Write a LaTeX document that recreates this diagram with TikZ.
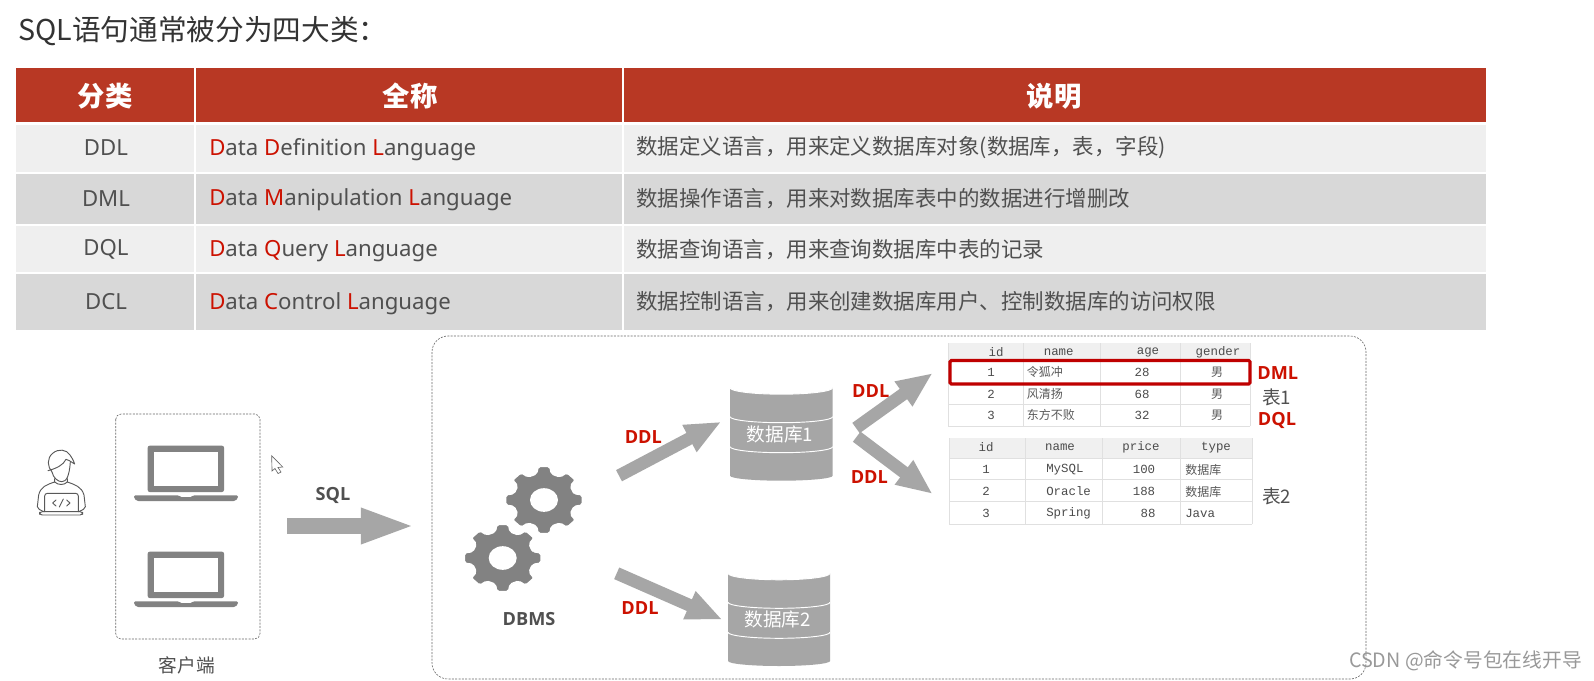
\documentclass[tikz,border=0pt]{standalone}
\usepackage{fontspec}
\usetikzlibrary{arrows.meta}
\setmainfont{Noto Sans}
\newfontfamily\cjk{Noto Sans CJK SC}
\newfontfamily\tmono{Liberation Mono}
\newfontfamily\labf{Open Sans}
\newcommand{\fs}[1]{\fontsize{#1}{#1}\selectfont}
\definecolor{hdr}{HTML}{B83824}
\definecolor{rowa}{HTML}{EFEFEF}
\definecolor{rowb}{HTML}{D8D8D8}
\definecolor{txt}{HTML}{505050}
\definecolor{redt}{HTML}{CC1100}
\definecolor{grayfig}{HTML}{A6A6A6}
\definecolor{icon}{HTML}{828282}
\newcommand{\R}[1]{\textcolor{redt}{#1}}
\tikzset{
 hcell/.style={text=white,font=\cjk\fs{20.5}\bfseries,inner sep=0pt},
 bodytxt/.style={text=txt,font=\cjk\fs{16.1},inner sep=0pt},
 latin/.style={text=txt,font=\fs{16.65},inner sep=0pt},
 lab/.style={text=redt,font=\labf\fs{13.6}\bfseries,inner sep=0pt},
 darklab/.style={text=txt,font=\labf\fs{13.6}\bfseries,inner sep=0pt},
 dim/.style={text=txt,font=\cjk\fs{14},inner sep=0pt},
 mono/.style={text=black!70,font=\tmono\fs{9.3},inner sep=0pt},
 mcjk/.style={text=black!65,font=\cjk\fs{9},inner sep=0pt},
 fatarrow/.style={draw=grayfig,line width=9.5pt,shorten >=-2.5pt,-{Triangle[length=27pt,width=21pt]}},
 frame/.style={draw=black!60,dash pattern=on 1.5pt off 1pt,line width=0.45pt,rounded corners=4pt},
 ic/.style={fill=icon},
 person/.style={draw=black!65,line width=0.7pt,fill=none,line join=round,line cap=round},
}
\newcommand{\laptop}[2]{%
 \begin{scope}[shift={(#1,#2)}]
  \fill[ic,rounded corners=1.5pt] (147.7,445.7) rectangle (224,492);
  \fill[white] (154,451.7) rectangle (218,486);
  \fill[ic,rounded corners=1pt] (134,495.3) -- (179,495.3) -- (180,497) -- (192,497) -- (193,495.3) -- (238,495.3) -- (238,498) -- (235,501) -- (137,501) -- (134,498) -- cycle;
 \end{scope}}
\newcommand{\dbcyl}[4]{% left right top bottom
 \pgfmathsetmacro{\cxx}{(#1+#2)/2}\pgfmathsetmacro{\rxx}{(#2-#1)/2}
 \fill[grayfig] (#1,#3+6) arc[start angle=180,end angle=0,x radius=\rxx,y radius=6.5] -- (#2,#4-5) arc[start angle=0,end angle=-180,x radius=\rxx,y radius=-5] -- cycle;
 \draw[white,line width=0.7pt] (#1,#3+6) arc[start angle=180,end angle=360,x radius=\rxx,y radius=-6.5];
 \draw[white,line width=0.7pt] (#1,#3+35) arc[start angle=180,end angle=360,x radius=\rxx,y radius=-6];
 \draw[white,line width=0.7pt] (#1,#3+65) arc[start angle=180,end angle=360,x radius=\rxx,y radius=-6];
}
\newcommand{\gearshape}[2]{%
 \begin{scope}[shift={(#1,#2)},yscale=0.875]
 \fill[icon,draw=white,line width=1.4pt,rounded corners=1.5pt]
   (-14:31) \foreach \a in {0,45,...,315}{ -- (\a-14:31) -- (\a-9:39) -- (\a+9:39) -- (\a+14:31) } -- cycle;
 \fill[white] (0,0) ellipse[x radius=14,y radius=13.5];
 \end{scope}}
\begin{document}
\begin{tikzpicture}[x=0.75pt,y=-0.75pt]
\useasboundingbox (0,0) rectangle (1594,681);
\fill[white] (0,0) rectangle (1594,681);
\node[anchor=west,text=black!80,font=\cjk\fs{21.5},inner sep=0pt] (title) at (18,31) {SQL语句通常被分为四大类：};
% table
\foreach \xa/\xb in {16/194,196/622,624/1486}{
 \fill[hdr] (\xa,68) rectangle (\xb,122);
 \fill[rowa] (\xa,125) rectangle (\xb,172);
 \fill[rowb] (\xa,174) rectangle (\xb,224);
 \fill[rowa] (\xa,226) rectangle (\xb,272);
 \fill[rowb] (\xa,274) rectangle (\xb,330);
}
\node[hcell] (h1) at (105,96) {分类};
\node[hcell] (h2) at (410,96) {全称};
\node[hcell] (h3) at (1054,96) {说明};
\node[latin] (c1) at (106,148) {DDL};
\node[latin] (c2) at (106,198.5) {DML};
\node[latin] (c3) at (106,249.5) {DQL};
\node[latin] (c4) at (106,302) {DCL};
\node[latin,anchor=base west] (f1) at (209,155.5) {\R{D}ata \R{D}efinition \R{L}anguage};
\node[latin,anchor=base west] (f2) at (209,205.5) {\R{D}ata \R{M}anipulation \R{L}anguage};
\node[latin,anchor=base west] (f3) at (209,256.5) {\R{D}ata \R{Q}uery \R{L}anguage};
\node[latin,anchor=base west] (f4) at (209,309.5) {\R{D}ata \R{C}ontrol \R{L}anguage};
\node[bodytxt,anchor=west] (d1) at (636,148) {数据定义语言，用来定义数据库对象(数据库，表，字段)};
\node[bodytxt,anchor=west] (d2) at (636,198.5) {数据操作语言，用来对数据库表中的数据进行增删改};
\node[bodytxt,anchor=west] (d3) at (636,249.5) {数据查询语言，用来查询数据库中表的记录};
\node[bodytxt,anchor=west] (d4) at (636,302) {数据控制语言，用来创建数据库用户、控制数据库的访问权限};
% client
\draw[frame] (115.7,414) rectangle (260,639);
\laptop{0}{0}
\laptop{0}{106}
\node[dim] (client) at (186.7,665) {客户端};
% person
\begin{scope}[shift={(30,440)},x=0.25pt,y=-0.25pt]
 \draw[person] (66,96) .. controls (52,80) and (50,55) .. (68,40) .. controls (85,25) and (110,28) .. (120,45) .. controls (125,52) and (130,60) .. (134,72) -- (118,62) -- (108,58) .. controls (100,75) and (80,85) .. (54,92);
 \draw[person] (66,96) .. controls (70,115) and (85,125) .. (95,125) .. controls (108,125) and (118,112) .. (121,65);
 \draw[person] (74,116) -- (74,126) .. controls (85,136) and (102,136) .. (112,126) -- (112,116);
 \draw[person] (74,126) .. controls (50,134) and (32,140) .. (26,165) -- (22,200) .. controls (22,206) and (30,210) .. (42,215);
 \draw[person] (112,126) .. controls (135,134) and (155,140) .. (162,165) -- (166,200) .. controls (166,206) and (158,210) .. (146,215);
 \draw[person,rounded corners=2pt] (44,215) -- (44,160) -- (145,160) -- (145,215);
 \draw[person,rounded corners=2pt] (29,215) rectangle (158,225);
 \draw[person] (78,180) -- (68,189) -- (78,198) (110,180) -- (120,189) -- (110,198) (100,177) -- (88,201);
\end{scope}
% cursor
\draw[draw=black!60,fill=white,line width=0.5pt] (271.7,455.7) -- (282.7,467) -- (278,467.5) -- (281,472) -- (278,473.5) -- (275,468.5) -- (272,471) -- cycle;
% SQL arrow
\coordinate (sqla) at (287,526);
\coordinate (sqlb) at (410.7,526);
\draw[fatarrow,line width=12pt,shorten >=-3.7pt,-{Triangle[length=41pt,width=24pt]}] (sqla) -- (sqlb);
\node[darklab] (sql) at (333,495) {SQL};
% DBMS frame
\draw[frame,rounded corners=12pt] (432,336) rectangle (1366,679);
% gears
\gearshape{544}{500}
\gearshape{502.7}{558}
\node[darklab] (dbms) at (529,619) {DBMS};
% DBs
\dbcyl{730}{832.7}{381.7}{480.7}
\node[dim,text=white] (db1) at (780,434) {数据库1};
\dbcyl{728}{830}{567.3}{666}
\node[dim,text=white] (db2) at (777.7,619) {数据库2};
% arrows
\coordinate (a1a) at (619,475.7); \coordinate (a1b) at (718.3,423.3);
\coordinate (a2a) at (616.7,573.3); \coordinate (a2b) at (719.3,618.3);
\coordinate (a3a) at (856,428); \coordinate (a3b) at (930,375);
\coordinate (a4a) at (856.7,436.7); \coordinate (a4b) at (930,492);
\draw[fatarrow] (a1a) -- (a1b);
\draw[fatarrow] (a2a) -- (a2b);
\draw[fatarrow] (a3a) -- (a3b);
\draw[fatarrow] (a4a) -- (a4b);
\node[lab] (l1) at (643.3,437.3) {DDL};
\node[lab] (l2) at (640,608.3) {DDL};
\node[lab] (l3) at (870.7,390.7) {DDL};
\node[lab] (l4) at (869.3,477.3) {DDL};
% table 1
\fill[black!6] (948,343) rectangle (1250,360);
\foreach \yy in {360,383,404,426}{\draw[black!12,line width=0.5pt] (948,\yy) -- (1250,\yy);}
\foreach \xx in {948,1023,1100,1180,1250}{\draw[black!12,line width=0.5pt] (\xx,343) -- (\xx,426);}
\node[mono] (t1a) at (996,352) {id};
\node[mono] (t1b) at (1058.7,352) {name};
\node[mono] (t1c) at (1148,352) {age};
\node[mono] (t1d) at (1218,352) {gender};
\node[mono] (t1e) at (991,372) {1};
\node[mcjk,anchor=west] (t1f) at (1026.7,372) {令狐冲};
\node[mono] (t1g) at (1142,372) {28};
\node[mcjk] (t1h) at (1217,372) {男};
\node[mono] (t1i) at (991,394) {2};
\node[mcjk,anchor=west] (t1j) at (1026.7,394) {风清扬};
\node[mono] (t1k) at (1142,394) {68};
\node[mcjk] (t1l) at (1217,394) {男};
\node[mono] (t1m) at (991,415) {3};
\node[mcjk,anchor=west] (t1n) at (1026.7,415) {东方不败};
\node[mono] (t1o) at (1142,415) {32};
\node[mcjk] (t1p) at (1217,415) {男};
\draw[draw=red!75!black,line width=2.3pt,rounded corners=1pt] (950,360.5) rectangle (1250,384);
\node[lab] (dml) at (1277.7,373.3) {DML};
\node[dim] (b1) at (1276.7,397.3) {表1};
\node[lab] (dql) at (1277,420) {DQL};
% table 2
\fill[black!6] (949,438) rectangle (1252,458);
\foreach \yy in {458,479,501.7,524}{\draw[black!12,line width=0.5pt] (949,\yy) -- (1252,\yy);}
\foreach \xx in {949,1025.7,1102,1180,1252}{\draw[black!12,line width=0.5pt] (\xx,438) -- (\xx,524);}
\node[mono] (t2a) at (986,447.5) {id};
\node[mono] (t2b) at (1060,447.5) {name};
\node[mono] (t2c) at (1141,447.5) {price};
\node[mono] (t2d) at (1216,447.5) {type};
\node[mono] (t2e) at (986,469.5) {1};
\node[mono,anchor=west] (t2f) at (1046,469.5) {MySQL};
\node[mono] (t2g) at (1144,469.5) {100};
\node[mcjk,anchor=west] (t2h) at (1185,469.5) {数据库};
\node[mono] (t2i) at (986,491.5) {2};
\node[mono,anchor=west] (t2j) at (1046,491.5) {Oracle};
\node[mono] (t2k) at (1144,491.5) {188};
\node[mcjk,anchor=west] (t2l) at (1185,491.5) {数据库};
\node[mono] (t2m) at (986,513) {3};
\node[mono,anchor=west] (t2n) at (1046,513) {Spring};
\node[mono] (t2o) at (1148,513) {88};
\node[mono,anchor=west] (t2p) at (1185,513) {Java};
\node[dim] (b2) at (1276.7,496.7) {表2};
% watermark
\node[anchor=east,text=black!40,font=\cjk\fs{14.8},inner sep=0pt] (wm) at (1582,661) {CSDN @命令号包在线开导};
\end{tikzpicture}
\end{document}
